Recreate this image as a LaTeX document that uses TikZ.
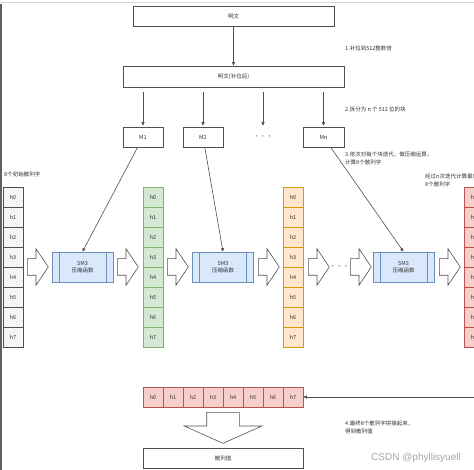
\documentclass[tikz,border=0pt]{standalone}
\usepackage{fontspec}
\setmainfont{Noto Sans CJK SC}
\newfontfamily\markfont{Liberation Sans}
\usepackage{tikz}
\usetikzlibrary{positioning, arrows.meta, calc, shapes.arrows}
\definecolor{cLine}{RGB}{80,80,80}
\definecolor{cText}{RGB}{50,50,50}
\definecolor{cGrayF}{RGB}{245,245,245}
\definecolor{cGreenF}{RGB}{213,232,212}
\definecolor{cGreenD}{RGB}{130,179,102}
\definecolor{cOrangeF}{RGB}{255,230,204}
\definecolor{cOrangeD}{RGB}{215,155,0}
\definecolor{cRedF}{RGB}{248,206,204}
\definecolor{cRedD}{RGB}{184,84,80}
\definecolor{cBlueF}{RGB}{218,232,252}
\definecolor{cBlueD}{RGB}{108,142,191}

\begin{document}
\begin{tikzpicture}[x=1pt, y=-1pt,
    box/.style={draw=cLine, fill=white, line width=0.6pt, inner sep=0pt,
                text=cText, font=\fontsize{5.5}{6.5}\selectfont},
    cell/.style={box, minimum width=20pt, minimum height=20pt},
    sm/.style={box, fill=cBlueF, draw=cBlueD, minimum width=61pt, minimum height=30pt, align=center,
               path picture={\draw[cBlueD, line width=0.6pt]
                 ([xshift=7pt]path picture bounding box.north west) -- ([xshift=7pt]path picture bounding box.south west)
                 ([xshift=-7pt]path picture bounding box.north east) -- ([xshift=-7pt]path picture bounding box.south east);}},
    hollow/.style={single arrow, draw=cLine, fill=white, line width=0.6pt, inner xsep=0pt, inner ysep=8pt,
                   minimum height=21pt, single arrow head extend=10pt, single arrow tip angle=112, anchor=tail},
    note/.style={anchor=west, align=left, inner sep=0pt, text=cText, font=\fontsize{5.5}{8}\selectfont},
    link/.style={-{Triangle[length=3.5pt,width=3pt]}, draw=cLine, line width=0.6pt}]

    % Frame
    \useasboundingbox (0,0) rectangle (474,470);
    \fill[white] (0,0) rectangle (474,470);
    \clip (0,0) rectangle (474,470);
    \draw[gray!30, line width=0.6pt] (0,2) -- (474,2);
    \fill[gray!75!black] (0,4) rectangle (2,470);

    % Message and blocks
    \node[box, minimum width=201pt, minimum height=20pt] (plain) at (233.5,16) {明文};
    \node[box, minimum width=221pt, minimum height=21pt] (padded) at (233.5,76.5) {明文(补位后)};
    \node[box, minimum width=40pt, minimum height=20pt] (M1) at (143,137) {M1};
    \node[box, minimum width=40pt, minimum height=20pt] (M2) at (203,137) {M2};
    \node[box, draw=none, minimum width=20pt, minimum height=20pt] (mdots) at (263,137) {· · ·};
    \node[box, minimum width=41pt, minimum height=20pt] (Mn) at (323.5,137) {Mn};

    \draw[link] (plain) -- (padded);
    \foreach \m in {M1, M2, mdots, Mn}
        \draw[link, shorten <=5pt, shorten >=1pt] (padded.south -| \m) -- (\m.north);

    % Hash word columns
    \foreach \i in {0,...,7} {
        \node[cell, fill=cGrayF] (a\i) at (13,197+20*\i) {h\i};
        \node[cell, fill=cGreenF, draw=cGreenD] (b\i) at (153,197+20*\i) {h\i};
        \node[cell, fill=cOrangeF, draw=cOrangeD] (c\i) at (293,197+20*\i) {h\i};
        \node[cell, fill=cRedF, draw=cRedD] (d\i) at (474,197+20*\i) {h\i};
    }

    % Compression rounds
    \node[sm] (sm1) at (82.5,267) {SM3\\压缩函数};
    \node[sm] (sm2) at (223,267) {SM3\\压缩函数};
    \node[sm] (sm3) at (403.5,267) {SM3\\压缩函数};

    \node[hollow] (ba1) at (27,267) {};
    \node[hollow] (ba2) at (117,267) {};
    \node[hollow] (ba3) at (167,267) {};
    \node[hollow] (ba4) at (258,267) {};
    \node[hollow] (ba5) at (308,267) {};
    \node[box, draw=none, fill=none] (bdots) at (339.5,267) {· · ·};
    \node[hollow] (ba6) at (350,267) {};
    \node[hollow] (ba7) at (439,267) {};

    \draw[link] (M1) -- (sm1.north);
    \draw[link] (M2) -- (sm2.north);
    \draw[link] (Mn) -- (sm3.north);

    % Final hash
    \foreach \i in {0,...,7}
        \node[cell, fill=cRedF, draw=cRedD] (r\i) at (153+20*\i,397) {h\i};
    \coordinate (feed) at (480,397);
    \draw[link] (feed) -- (r7.east);

    \node[single arrow, draw=cLine, fill=white, line width=0.6pt, inner xsep=0pt, inner ysep=16pt,
          minimum height=31pt, single arrow head extend=22.5pt, single arrow tip angle=132,
          rotate=-90, anchor=tail] (bigdown) at (223,412) {};
    \node[box, minimum width=160pt, minimum height=20pt] (digest) at (223,458) {散列值};

    % Notes
    \node[note] (n1) at (345,48) {1.补位到512整数倍};
    \node[note] (n2) at (345,109) {2.拆分为 n 个 512 位的块};
    \node[note] (n3) at (345,158) {3.依次对每个块迭代，做压缩运算，\\计算8个散列字};
    \node[note] (n0) at (4,174) {8个初始散列字};
    \node[note] (n5) at (425,180.5) {经过n次迭代计算最后\\8个散列字};
    \node[note] (n4) at (345,427.5) {4.最终8个散列字拼接起来，\\得到散列值};

    \node[text=gray!70, font=\markfont\fontsize{10}{10}\selectfont, inner sep=0pt] (mark) at (416,458) {CSDN @phyllisyuell};

\end{tikzpicture}
\end{document}
